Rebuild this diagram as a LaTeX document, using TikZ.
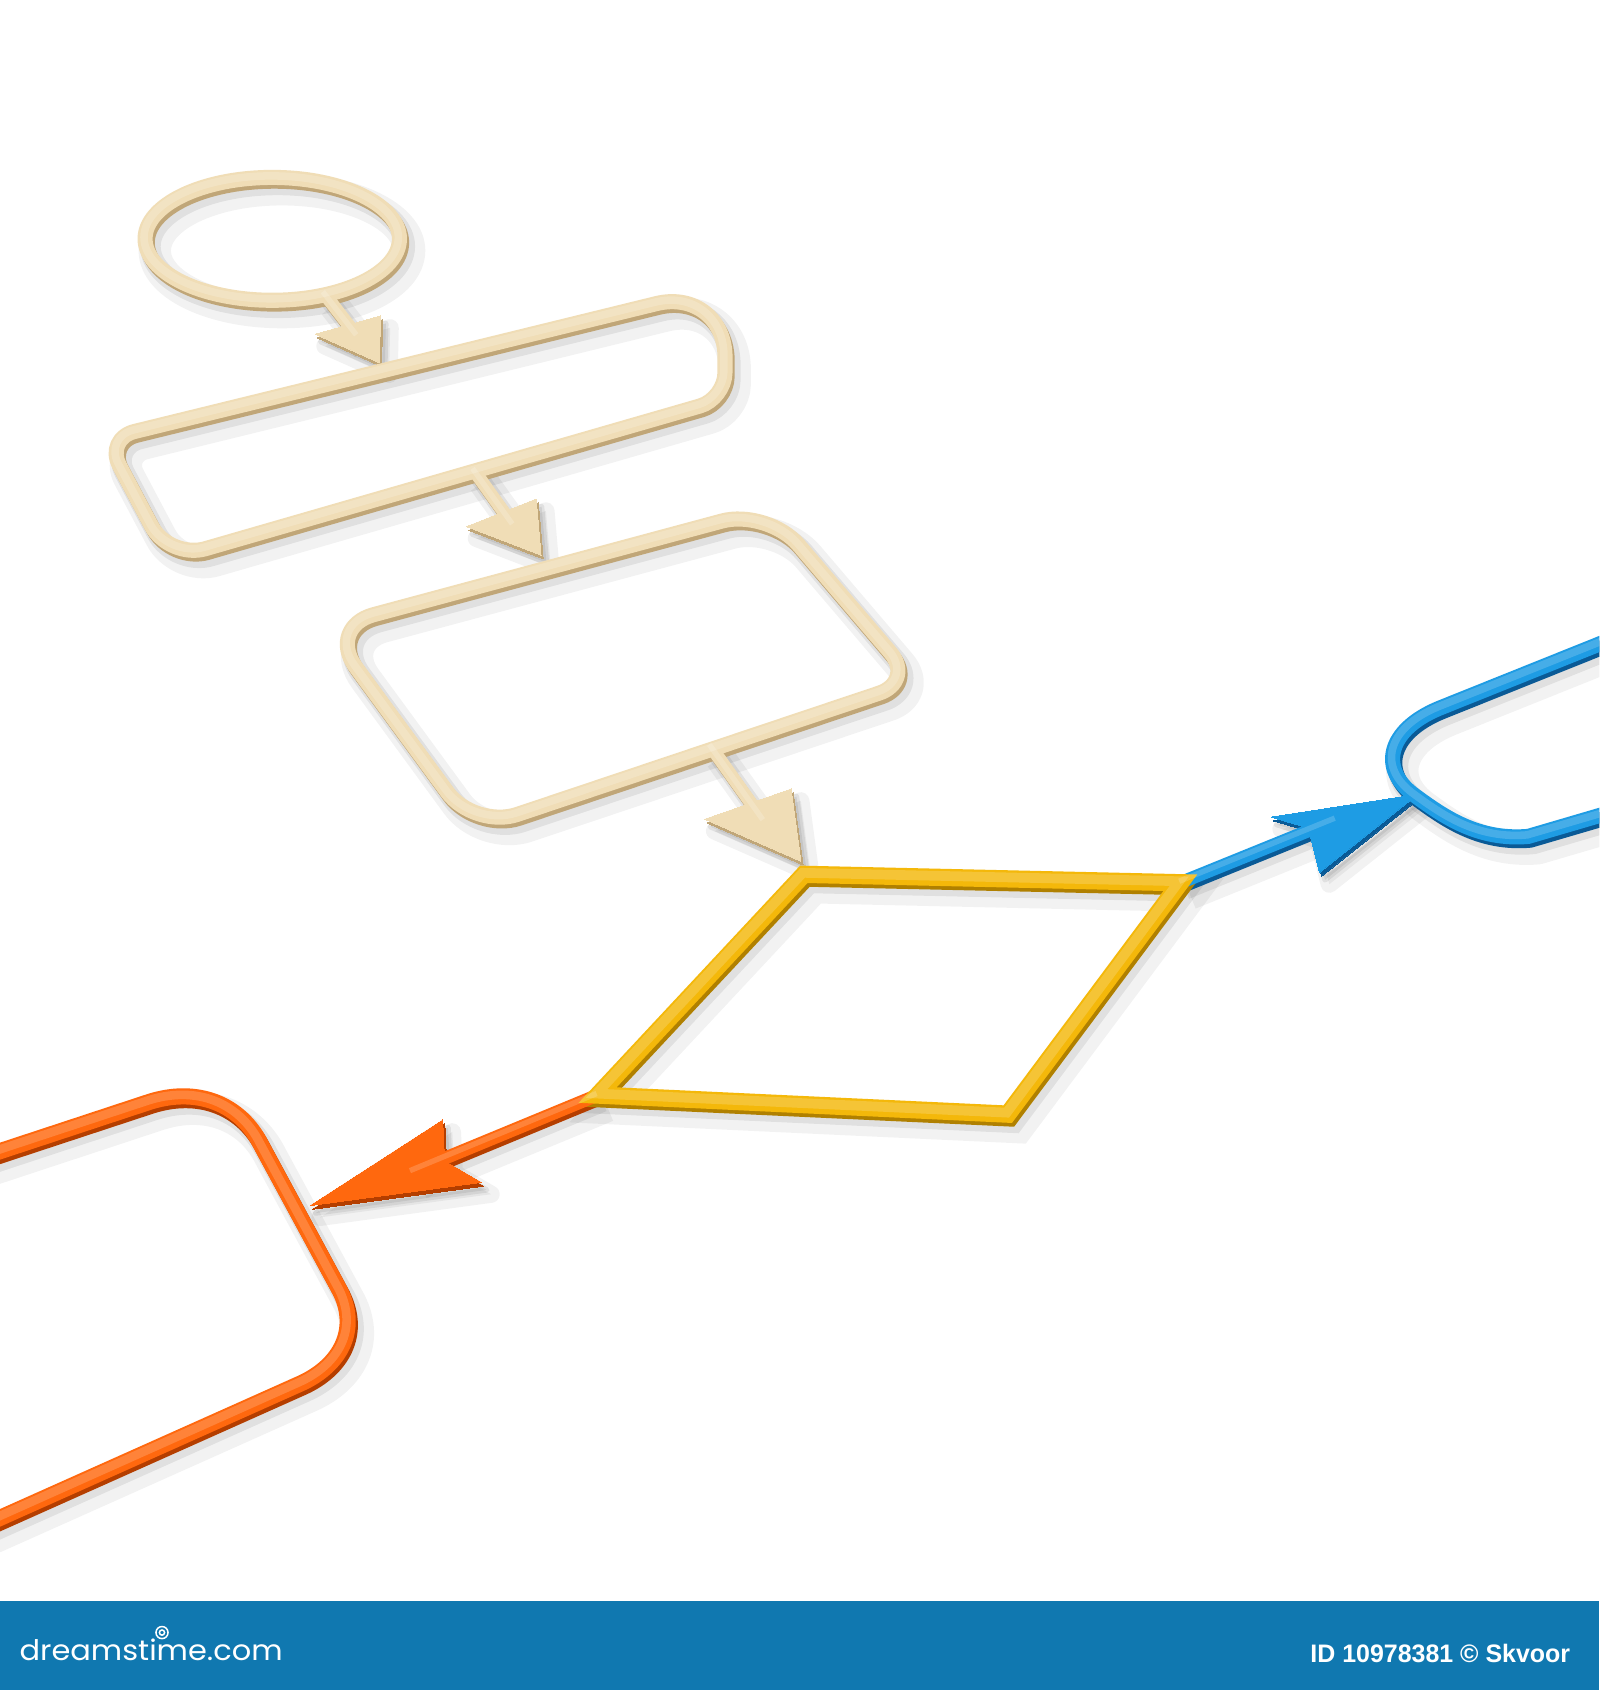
\documentclass[tikz,border=0pt]{standalone}
\usepackage{fontspec}
\usepackage{graphicx}
\usetikzlibrary{calc}
\newfontfamily\popfont{Poppins}
\newfontfamily\lsfont{Liberation Sans}
\definecolor{tan1}{RGB}{192,166,120}
\definecolor{tan2}{RGB}{240,221,182}
\definecolor{yel1}{RGB}{176,128,0}
\definecolor{yel2}{RGB}{244,184,10}
\definecolor{blu1}{RGB}{10,90,150}
\definecolor{blu2}{RGB}{30,156,228}
\definecolor{ora1}{RGB}{180,62,0}
\definecolor{ora2}{RGB}{255,104,14}
\colorlet{tan0}{black}\colorlet{yel0}{black}\colorlet{blu0}{black}\colorlet{ora0}{black}
\colorlet{tan3}{white}\colorlet{yel3}{white}\colorlet{blu3}{white}\colorlet{ora3}{white}
\definecolor{barblue}{RGB}{16,120,176}
\tikzset{
  rquad/.style n args={8}{insert path={
    ($(#1)!#5!(#2)$) -- ($(#2)!#6!(#1)$)
    .. controls ($(#2)!0.45*#6!(#1)$) and ($(#2)!0.45*#6!(#3)$) .. ($(#2)!#6!(#3)$)
    -- ($(#3)!#7!(#2)$)
    .. controls ($(#3)!0.45*#7!(#2)$) and ($(#3)!0.45*#7!(#4)$) .. ($(#3)!#7!(#4)$)
    -- ($(#4)!#8!(#3)$)
    .. controls ($(#4)!0.45*#8!(#3)$) and ($(#4)!0.45*#8!(#1)$) .. ($(#4)!#8!(#1)$)
    -- ($(#1)!#5!(#4)$)
    .. controls ($(#1)!0.45*#5!(#4)$) and ($(#1)!0.45*#5!(#2)$) .. ($(#1)!#5!(#2)$)
    -- cycle}}
}
\begin{document}
\begin{tikzpicture}[x=1pt,y=-1pt,line cap=butt]
\useasboundingbox (0,0) rectangle (1484,1568);
\fill[white] (0,0) rectangle (1484,1568);
% ellipse (start)
\coordinate (ell) at (252.6,221.6);
% rectangle 1
\coordinate (r1a) at (97.6,407);
\coordinate (r1b) at (673,266);
\coordinate (r1c) at (672.5,370);
\coordinate (r1d) at (156.9,518.8);
% rectangle 2
\coordinate (r2a) at (303.1,582);
\coordinate (r2b) at (712.3,472);
\coordinate (r2c) at (848.8,632);
\coordinate (r2d) at (440,769);
% diamond
\coordinate (d1) at (745.8,811.2);
\coordinate (d2) at (1095.1,819);
\coordinate (d3) at (935,1033.7);
\coordinate (d4) at (554.5,1016);
% tan arrows
\coordinate (a1s) at (300.5,272);
\coordinate (a1l) at (292.5,310);
\coordinate (a1r) at (353,293.1);
\coordinate (a1t) at (352,336.5);
\coordinate (a2s) at (439.4,436);
\coordinate (a2l) at (433,488.5);
\coordinate (a2r) at (497.5,463);
\coordinate (a2t) at (502,515);
\coordinate (a3s) at (659,692);
\coordinate (a3l) at (654,760);
\coordinate (a3r) at (734,732);
\coordinate (a3t) at (743.1,799);
% blue arrow and shape
\coordinate (bt) at (1315.5,737);
\coordinate (bl) at (1179.5,758.1);
\coordinate (bn) at (1214,768.3);
\coordinate (bw) at (1224.3,809.4);
\coordinate (bs1) at (1510,587);
\coordinate (bs2) at (1335.6,657);
\coordinate (bs3) at (1314,739);
\coordinate (bs4) at (1418,776);
\coordinate (bs5) at (1510,749);
% orange arrow and shape
\coordinate (ot) at (287.9,1118.5);
\coordinate (ou) at (410.7,1039.1);
\coordinate (on) at (412.5,1077.2);
\coordinate (ob) at (446.6,1097);
\coordinate (os1) at (-15,1073);
\coordinate (os2) at (135.7,1023.3);
\coordinate (os3) at (242,1061.8);
\coordinate (os4) at (315.4,1197.5);
\coordinate (os5) at (278.7,1283.7);
\coordinate (os6) at (-15,1415);
\begin{scope}
\clip (0,0) rectangle (1484,1485);
\foreach \dx/\dy/\op/\ex/\k in {9/11/0.05/16/0, 5/7/0.07/5/0, 2/3.5/1/0/1, 0/0/1/0/2, -1/-1.4/0.18/-7/3}{
  \pgfmathsetmacro\fw{max(\ex,0)}
  \pgfmathsetmacro\fo{\k==3 ? 0 : \op}
  \begin{scope}[transform canvas={shift={(\dx,\dy)}},line join=round]
    % tan shapes
    \draw[draw=tan\k,draw opacity=\op,line width=14+\ex] (ell) ellipse [x radius=118,y radius=57];
    \draw[draw=tan\k,draw opacity=\op,line width=14+\ex] (r1a) [rquad={r1a}{r1b}{r1c}{r1d}{28pt}{66pt}{24pt}{35pt}];
    \draw[draw=tan\k,draw opacity=\op,line width=14+\ex] (r2a) [rquad={r2a}{r2b}{r2c}{r2d}{45pt}{44pt}{35pt}{42pt}];
    % tan arrows
    \draw[draw=tan\k,draw opacity=\op,line width=12+\ex] (a1s) -- ($($(a1l)!0.5!(a1r)$)!0.3!(a1t)$);
    \filldraw[fill=tan\k,draw=tan\k,fill opacity=\fo,draw opacity=\fo,line width=\fw] (a1t) -- (a1l) -- (a1r) -- cycle;
    \draw[draw=tan\k,draw opacity=\op,line width=12+\ex] (a2s) -- ($($(a2l)!0.5!(a2r)$)!0.3!(a2t)$);
    \filldraw[fill=tan\k,draw=tan\k,fill opacity=\fo,draw opacity=\fo,line width=\fw] (a2t) -- (a2l) -- (a2r) -- cycle;
    \draw[draw=tan\k,draw opacity=\op,line width=12+\ex] (a3s) -- ($($(a3l)!0.5!(a3r)$)!0.3!(a3t)$);
    \filldraw[fill=tan\k,draw=tan\k,fill opacity=\fo,draw opacity=\fo,line width=\fw] (a3t) -- (a3l) -- (a3r) -- cycle;
    % orange shape and arrow
    \draw[draw=ora\k,draw opacity=\op,line width=15+\ex] (os1) -- (os2)
      .. controls (183.4,1006.8) and (223.7,1025.1) .. (os3) -- (os4)
      .. controls (333.7,1234.2) and (315.4,1267.2) .. (os5) -- (os6);
    \draw[draw=ora\k,draw opacity=\op,line width=12+\ex] (d4) -- ($(on)!0.25!(ot)$);
    \filldraw[fill=ora\k,draw=ora\k,fill opacity=\fo,draw opacity=\fo,line width=\fw] (ot) -- (ou) -- (on) -- (ob) -- cycle;
    % blue shape and arrow
    \draw[draw=blu\k,draw opacity=\op,line width=14+\ex] (bs1) -- (bs2)
      .. controls (1287,677) and (1278,714) .. (bs3)
      .. controls (1340,758) and (1372,780) .. (bs4) -- (bs5);
    \draw[draw=blu\k,draw opacity=\op,line width=12+\ex] (d2) -- ($(bn)!0.25!(bt)$);
    \filldraw[fill=blu\k,draw=blu\k,fill opacity=\fo,draw opacity=\fo,line width=\fw] (bt) -- (bl) -- (bn) -- (bw) -- cycle;
    % decision diamond
    \draw[draw=yel\k,draw opacity=\op,line width=16+\ex,line join=miter] (d1) -- (d2) -- (d3) -- (d4) -- cycle;
  \end{scope}
}
\end{scope}
% footer bar
\fill[barblue] (0,1485) rectangle (1484,1568);
\node[anchor=base west,inner sep=0pt,text=white] (logo) at (18,1540.4) {\resizebox{244pt}{20pt}{\popfont dreamstime.com}};
\coordinate (spiral) at (150.3,1514.7);
\draw[white,line width=1.4] (spiral) circle [radius=5.6];
\draw[white,line width=1.4] (spiral) circle [radius=2.4];
\node[anchor=base east,inner sep=0pt,text=white] (credit) at (1457,1542.4) {\resizebox{241pt}{17pt}{\lsfont\bfseries ID 10978381 \textcopyright{} Skvoor}};
\end{tikzpicture}
\end{document}
